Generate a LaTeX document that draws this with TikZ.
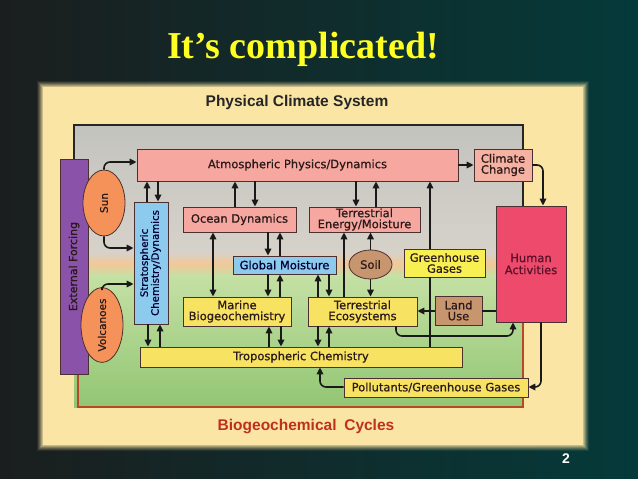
\documentclass[tikz,border=0pt]{standalone}
\usepackage{fontspec}
\setmainfont{Liberation Sans}
\newfontfamily\titlefont{Liberation Serif}
\newfontfamily\boxfont{DejaVu Sans}[FakeBold=0.8]
\usetikzlibrary{arrows.meta,shapes.geometric,calc}
\definecolor{bgl}{HTML}{1B1E1E}
\definecolor{bgr}{HTML}{053A3A}
\definecolor{cream}{HTML}{FAE5A5}
\definecolor{grayT}{HTML}{C3C3BE}
\definecolor{grayB}{HTML}{D6D2CA}
\definecolor{peach}{HTML}{F2C898}
\definecolor{greenT}{HTML}{C4E0A4}
\definecolor{greenB}{HTML}{92C673}
\definecolor{bioline}{HTML}{B84828}
\definecolor{pinkbx}{HTML}{F6A8A0}
\definecolor{ccbx}{HTML}{F5B2A2}
\definecolor{habx}{HTML}{EE4A6C}
\definecolor{bluebx}{HTML}{8CCAEE}
\definecolor{yelbx}{HTML}{F8E262}
\definecolor{ggbx}{HTML}{F8F052}
\definecolor{brownbx}{HTML}{C8966E}
\definecolor{purplebx}{HTML}{8A52A8}
\definecolor{orangebx}{HTML}{F5925A}
\definecolor{boxline}{HTML}{4A3030}
\definecolor{txt}{HTML}{2A1A1A}
\definecolor{hatxt}{HTML}{5A1028}
\definecolor{titleyel}{HTML}{FFFF22}
\definecolor{biored}{HTML}{C0301E}
\begin{document}
\begin{tikzpicture}[x=1pt,y=-1pt,
  box/.style={draw=boxline, line width=0.8pt, inner sep=0pt, align=center, text=txt,
    font=\boxfont\fontsize{11.5}{11}\selectfont},
  oval/.style={ellipse, draw=boxline, line width=0.8pt, inner sep=0pt, fill=orangebx, text=txt,
    font=\boxfont\fontsize{10.5}{11}\selectfont},
  arr/.style={-{Triangle[length=7pt,width=6.5pt]}, line width=1.6pt, draw=black!90},
  darr/.style={{Triangle[length=7pt,width=6.5pt]}-{Triangle[length=7pt,width=6.5pt]}, line width=1.6pt, draw=black!90},
  plain/.style={line width=1.6pt, draw=black!90},
  rnd/.style={rounded corners=6pt}]
\useasboundingbox (0,0) rectangle (638,479);
% slide background
\shade[left color=bgl, right color=bgr] (0,0) rectangle (638,479);
\node[anchor=base, text=titleyel, font=\titlefont\bfseries\fontsize{38}{40}\selectfont] (title) at (303,58) {It’s complicated!};
% panel glow
\foreach \i/\o in {6/0.08,5/0.12,4/0.16,3/0.22,2/0.3,1/0.4}
  \fill[cream, opacity=\o] (43-\i,87-\i) rectangle (583+\i,445+\i);
\fill[cream] (43,87) rectangle (583,445);
% photo fill
\shade[top color=grayT, bottom color=grayB] (74,125) rectangle (523,252);
\shade[top color=grayB, bottom color=greenT, middle color=peach] (74,252) rectangle (523,276);
\shade[top color=greenT, bottom color=greenB] (74,276) rectangle (523,407);
% frames
\draw[line width=1.2pt, black!85] (74,159) -- (74,125) -- (523,125) -- (523,206);
\draw[line width=1.4pt, bioline] (78,374) -- (78,407) -- (523,407) -- (523,322);
\node[font=\bfseries\fontsize{15.5}{17}\selectfont, text=black!85] (pcs) at (297,102) {Physical Climate System};
\node[font=\bfseries\fontsize{15.5}{17}\selectfont, text=biored] (bgc) at (306,427) {Biogeochemical\hspace{0.5em}Cycles};
\node[font=\bfseries\fontsize{14}{16}\selectfont, text=white] (pg) at (566,459) {2};
% nodes
\node[box, fill=pinkbx, minimum width=321, minimum height=32] (atm) at (297.5,165) {Atmospheric Physics/Dynamics};
\node[box, fill=ccbx, minimum width=58, minimum height=32] (cc) at (503,165) {Climate\\Change};
\node[box, fill=habx, minimum width=70, minimum height=116, text=hatxt, font=\boxfont\fontsize{11.5}{12}\selectfont] (ha) at (531,264) {Human\\Activities};
\node[box, fill=purplebx, minimum width=28, minimum height=215, font=\boxfont\fontsize{11}{11}\selectfont] (ext) at (74,266.5) {\rotatebox{90}{External Forcing}};
\node[oval, minimum width=42, minimum height=66] (sun) at (104,203) {\rotatebox{90}{Sun}};
\node[oval, minimum width=42, minimum height=66] (volc) at (102,325) {\rotatebox{90}{Volcanoes}};
\node[box, fill=bluebx, minimum width=34, minimum height=122, text=black!80!blue] (strat) at (151,263)
  {\rotatebox{90}{\fontsize{10.2}{10.5}\selectfont\begin{tabular}{@{}c@{}}Stratospheric\\Chemistry/Dynamics\end{tabular}}};
\node[box, fill=pinkbx, minimum width=113, minimum height=25] (ocean) at (239.5,219.5) {Ocean Dynamics};
\node[box, fill=pinkbx, minimum width=111, minimum height=25] (tem) at (364.5,219.5) {Terrestrial\\Energy/Moisture};
\node[box, fill=bluebx, minimum width=103, minimum height=18, text=black!80!blue] (gm) at (284.5,265) {Global Moisture};
\node[oval, fill=brownbx, minimum width=43, minimum height=29, font=\boxfont\fontsize{11.5}{11}\selectfont] (soil) at (370.5,264.5) {Soil};
\node[box, fill=ggbx, minimum width=81, minimum height=28] (gg) at (444.5,263) {Greenhouse\\Gases};
\node[box, fill=yelbx, minimum width=108, minimum height=29] (marine) at (237,311.5) {Marine\\Biogeochemistry};
\node[box, fill=yelbx, minimum width=109, minimum height=29] (te) at (362.5,311.5) {Terrestrial\\Ecosystems};
\node[box, fill=brownbx, minimum width=47, minimum height=29] (land) at (458.5,310.5) {Land\\Use};
\node[box, fill=yelbx, minimum width=322, minimum height=20] (trop) at (301,357) {Tropospheric Chemistry};
\node[box, fill=yelbx, minimum width=184, minimum height=19] (poll) at (436,387.5) {Pollutants/Greenhouse Gases};
% forcing arrows
\draw[arr, rnd] (sun.north) |- (atm.west |- 0,162);
\draw[arr, rnd] (sun.south) |- (strat.west |- 0,248);
\draw[arr, rnd] (volc.north) |- (strat.west |- 0,284);
% atmosphere links
\draw[arr] (atm.east) -- (cc.west);
\draw[arr, rnd] (cc.east) -| (543,0 |- ha.north);
\draw[arr] (147,0 |- strat.north) -- (147,0 |- atm.south);
\draw[arr] (158,0 |- atm.south) -- (158,0 |- strat.north);
\draw[arr] (235,0 |- ocean.north) -- (235,0 |- atm.south);
\draw[arr] (255,0 |- atm.south) -- (255,0 |- ocean.north);
\draw[arr] (356,0 |- atm.south) -- (356,0 |- tem.north);
\draw[arr] (376,0 |- tem.north) -- (376,0 |- atm.south);
\draw[arr] (430,0 |- gg.north) -- (430,0 |- atm.south);
\draw[plain] (430,0 |- trop.north) -- (430,0 |- gg.south);
% middle links
\draw[darr] (213,0 |- ocean.south) -- (213,0 |- marine.north);
\draw[arr] (268,0 |- ocean.south) -- (268,0 |- gm.north);
\draw[arr] (280,0 |- gm.north) -- (280,0 |- ocean.south);
\draw[arr] (268,0 |- gm.south) -- (268,0 |- marine.north);
\draw[arr] (280,0 |- marine.north) -- (280,0 |- gm.south);
\draw[arr] (318,0 |- te.north) -- (318,0 |- gm.south);
\draw[arr] (329,0 |- gm.south) -- (329,0 |- te.north);
\draw[arr] (344,0 |- te.north) -- (344,0 |- tem.south);
\draw[arr] (soil.north) -- (soil.north |- tem.south);
\draw[arr] (soil.south) -- (soil.south |- te.north);
% troposphere links
\draw[arr] (148,0 |- strat.south) -- (148,0 |- trop.north);
\draw[arr] (160,0 |- trop.north) -- (160,0 |- strat.south);
\draw[arr] (269,0 |- trop.north) -- (269,0 |- marine.south);
\draw[arr] (281,0 |- marine.south) -- (281,0 |- trop.north);
\draw[arr] (318,0 |- te.south) -- (318,0 |- trop.north);
\draw[arr] (329,0 |- trop.north) -- (329,0 |- te.south);
% human links
\draw[plain] (ha.west |- 0,311) -- (land.east |- 0,311);
\draw[arr] (land.west |- 0,311) -- (te.east |- 0,311);
\draw[arr, rnd] (396,0 |- te.south) |- (455,336) -| (513,0 |- ha.south);
\draw[arr, rnd] (541,0 |- ha.south) |- (poll.east |- 0,387);
\draw[arr, rnd] (poll.west |- 0,387) -| (320,0 |- trop.south);
\end{tikzpicture}
\end{document}
